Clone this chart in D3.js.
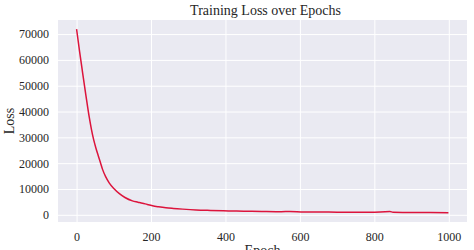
<!DOCTYPE html>
<html>
<head>
<meta charset="utf-8">
<script src="https://cdn.jsdelivr.net/npm/d3@7"></script>
<style>
  body { margin: 0; background: #fff; }
  text { font-family: "Liberation Serif", "DejaVu Serif", serif; fill: #262626; }
</style>
</head>
<body>
<div id="chart"></div>
<script>
// data
var epochs = [0, 8, 16, 25, 34, 40, 46, 52, 58, 64, 70, 78, 88, 100, 115, 130, 150, 165, 177, 190, 204, 220, 240, 260,
              285, 321, 360, 394, 430, 470, 510, 550, 573, 610, 650, 700, 753, 790, 842, 850, 900, 950, 999];
var losses = [71900, 63300, 55200, 46300, 37800, 33000, 29000, 25800, 23000, 20300, 17500, 14800, 12300, 10200, 8200, 6700, 5400, 4900, 4500, 4000, 3500, 3100, 2700, 2450,
              2200, 1900, 1700, 1550, 1450, 1350, 1250, 1200, 1300, 1100, 1080, 1030, 1000, 960, 1300, 1000, 900, 850, 770];
var xTicks = [0, 200, 400, 600, 800, 1000];
var yTicks = [0, 10000, 20000, 30000, 40000, 50000, 60000, 70000];

var titleText = "Training Loss over Epochs",
    xLabel = "Epoch",
    yLabel = "Loss";

// dimensions
var margin = {top: 20, right: 7, bottom: 28, left: 58},
    width = 474 - margin.left - margin.right,
    height = 250 - margin.top - margin.bottom;

var points = epochs.map(function(e, i) { return {epoch: e, loss: losses[i]}; });

// matplotlib-like 5% padding around the data
var xExt = [0, 999],
    yExt = d3.extent(losses);
var xPad = (xExt[1] - xExt[0]) * 0.05,
    yPad = (yExt[1] - yExt[0]) * 0.05;

var x = d3.scaleLinear()
    .domain([xExt[0] - xPad, xExt[1] + xPad])
    .range([0, width]);
var y = d3.scaleLinear()
    .domain([yExt[0] - yPad, yExt[1] + yPad])
    .range([height, 0]);

var svg = d3.select("#chart").append("svg")
    .attr("width", 474)
    .attr("height", 250);

var g = svg.append("g")
    .attr("transform", "translate(" + margin.left + "," + margin.top + ")");

// background
g.append("rect")
    .attr("width", width)
    .attr("height", height)
    .attr("fill", "#eaeaf2");

// grid lines
g.append("g")
    .attr("transform", "translate(0," + height + ")")
    .call(d3.axisBottom(x).tickValues(xTicks).tickSize(-height).tickFormat(""))
    .call(function(a) {
      a.select(".domain").remove();
      a.selectAll("line").attr("stroke", "#fff").attr("stroke-width", 1);
    });
g.append("g")
    .call(d3.axisLeft(y).tickValues(yTicks).tickSize(-width).tickFormat(""))
    .call(function(a) {
      a.select(".domain").remove();
      a.selectAll("line").attr("stroke", "#fff").attr("stroke-width", 1);
    });

// tick labels
g.append("g")
    .attr("transform", "translate(0," + height + ")")
    .call(d3.axisBottom(x).tickValues(xTicks).tickSize(0).tickPadding(10).tickFormat(d3.format("d")))
    .call(function(a) {
      a.select(".domain").remove();
      a.selectAll("text").style("font-size", "12px").attr("fill", "#262626");
    });
g.append("g")
    .call(d3.axisLeft(y).tickValues(yTicks).tickSize(0).tickPadding(9).tickFormat(d3.format("d")))
    .call(function(a) {
      a.select(".domain").remove();
      a.selectAll("text").style("font-size", "12px").attr("fill", "#262626");
    });

// loss line
var line = d3.line()
    .curve(d3.curveMonotoneX)
    .x(function(d) { return x(d.epoch); })
    .y(function(d) { return y(d.loss); });

g.append("path")
    .datum(points)
    .attr("d", line)
    .attr("fill", "none")
    .attr("stroke", "#dc143c")
    .attr("stroke-width", 1.5)
    .attr("stroke-linejoin", "round");

// title and labels
svg.append("text")
    .attr("x", margin.left + width / 2 + 3)
    .attr("y", 15)
    .attr("text-anchor", "middle")
    .style("font-size", "14px")
    .text(titleText);

svg.append("text")
    .attr("x", margin.left + width / 2)
    .attr("y", 255)
    .attr("text-anchor", "middle")
    .style("font-size", "14px")
    .text(xLabel);

svg.append("text")
    .attr("transform", "translate(14," + (margin.top + height / 2) + ") rotate(-90)")
    .attr("text-anchor", "middle")
    .style("font-size", "14px")
    .text(yLabel);
</script>
</body>
</html>
